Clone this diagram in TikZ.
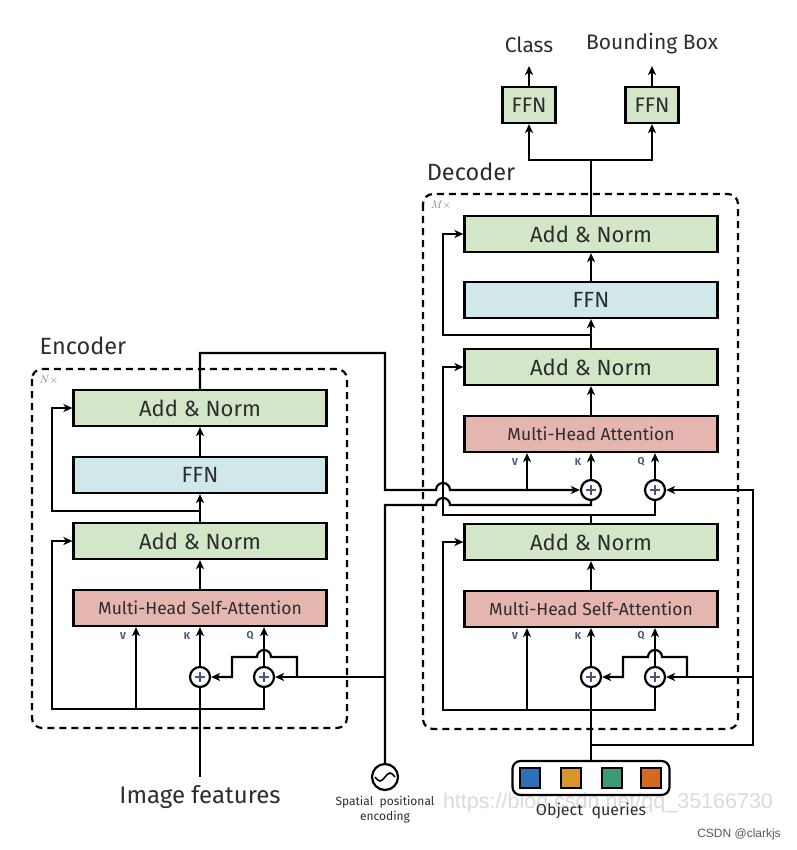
\documentclass[tikz,border=0pt]{standalone}
\usepackage{fontspec}
\setmainfont{Fira Sans}
\newfontfamily\wmfont{Liberation Sans}
\usetikzlibrary{arrows.meta,calc}
\definecolor{gfill}{RGB}{211,230,199}
\definecolor{bfill}{RGB}{209,232,234}
\definecolor{pfill}{RGB}{229,181,176}
\definecolor{txt}{RGB}{45,45,45}
\definecolor{lbl}{RGB}{70,85,120}
\definecolor{qb}{RGB}{46,112,184}
\definecolor{qy}{RGB}{216,150,42}
\definecolor{qg}{RGB}{62,154,114}
\definecolor{qo}{RGB}{210,106,32}
\begin{document}
\begin{tikzpicture}[x=1pt,y=-1pt,
 line width=2.2pt,
 arr/.style={-{Stealth[length=9pt,width=8pt,inset=2.5pt]}},
 blk/.style={draw, line width=2.2pt, minimum width=253pt, minimum height=36pt, inner sep=0pt, text=txt},
 an/.style={blk, fill=gfill, font=\fontsize{22}{26}\selectfont},
 ff/.style={blk, fill=bfill, font=\fontsize{22}{26}\selectfont},
 att/.style={blk, fill=pfill, font=\fontsize{17.5}{20}\selectfont},
 smallffn/.style={blk, fill=gfill, minimum width=53pt, font=\fontsize{21}{24}\selectfont},
 plusc/.style={circle, draw, line width=2.2pt, fill=white, minimum size=20pt, inner sep=0pt,
   path picture={\draw[line width=1.1pt,lbl] ($(path picture bounding box.center)+(-5pt,0pt)$) -- ($(path picture bounding box.center)+(5pt,0pt)$);
                 \draw[line width=1.1pt,lbl] ($(path picture bounding box.center)+(0pt,-5pt)$) -- ($(path picture bounding box.center)+(0pt,5pt)$);}},
 vkq/.style={font=\fontsize{10}{11}\selectfont\bfseries, text=lbl, inner sep=0pt},
 dbox/.style={draw, dash pattern=on 7pt off 5pt, line width=2.2pt, rounded corners=10pt},
 title/.style={font=\fontsize{23.5}{28}\selectfont, text=txt, inner sep=0pt},
 mult/.style={font=\fontsize{10.5}{12}\selectfont, text=black!50, inner sep=0pt},
 sq/.style={draw, line width=1.6pt, minimum size=20pt, inner sep=0pt},
]
\fill[white] (0,0) rectangle (796,850);
\useasboundingbox (0,0) rectangle (796,850);

% watermark
\node[font=\wmfont\fontsize{21.5}{25}\selectfont, text=black!14, inner sep=0pt] (wm) at (608,803) {https://blog.csdn.net/qq\_35166730};
\node[font=\wmfont\fontsize{12}{14}\selectfont, text=black!65, inner sep=0pt] (csdn) at (739,834) {CSDN @clarkjs};

% dashed frames
\draw[dbox] (32,369) rectangle (347,728);
\draw[dbox] (423,194) rectangle (738,729);

% labels
\node[title] (encl) at (83,346) {Encoder};
\node[title] (decl) at (471,172) {Decoder};
\node[mult] (nx) at (49,380) {$N\times$};
\node[mult] (mx) at (441,205) {$M\times$};

% encoder blocks
\node[an] (eAN2) at (200,408) {Add \& Norm};
\node[ff] (eFFN) at (200,475) {FFN};
\node[an] (eAN1) at (200,541) {Add \& Norm};
\node[att] (eMHSA) at (200,608) {Multi-Head Self-Attention};
\node[plusc] (eK) at (200,677) {};
\node[plusc] (eQ) at (264,677) {};
\node[vkq] (eVl) at (123,636) {V};
\node[vkq] (eKl) at (187,636) {K};
\node[vkq] (eQl) at (250,636) {Q};

% decoder blocks
\node[an] (dAN3) at (591,234) {Add \& Norm};
\node[ff] (dFFN) at (591,300) {FFN};
\node[an] (dAN2) at (591,367) {Add \& Norm};
\node[att] (dMHA) at (591,434) {Multi-Head Attention};
\node[an] (dAN1) at (591,542) {Add \& Norm};
\node[att] (dMHSA) at (591,609) {Multi-Head Self-Attention};
\node[plusc] (dK) at (591,490) {};
\node[plusc] (dQ) at (655,490) {};
\node[plusc] (d2K) at (591,677) {};
\node[plusc] (d2Q) at (655,677) {};
\node[vkq] (dVl) at (515,462) {V};
\node[vkq] (dKl) at (578,462) {K};
\node[vkq] (dQl) at (641,462) {Q};
\node[vkq] (d2Vl) at (515,636) {V};
\node[vkq] (d2Kl) at (578,636) {K};
\node[vkq] (d2Ql) at (641,636) {Q};

% output heads
\node[smallffn] (fc) at (529,105) {FFN};
\node[smallffn] (fb) at (652,105) {FFN};
\node[font=\fontsize{21}{25}\selectfont, text=txt, inner sep=0pt] (cls) at (529,45) {Class};
\node[font=\fontsize{21}{25}\selectfont, text=txt, inner sep=0pt] (bbx) at (652,44) {Bounding Box};
\coordinate (clsA) at (529,66);
\coordinate (bbxA) at (652,66);

% inputs
\node[font=\fontsize{24}{28}\selectfont, text=txt, inner sep=0pt] (imgf) at (200,797) {Image features};
\coordinate (imgtop) at (200,777);
\node[circle, draw, line width=2.2pt, minimum size=26pt, inner sep=0pt] (pe) at (385,777) {};
\draw[line width=1.6pt] ([xshift=-10pt]pe.center) sin ++(5pt,-4pt) cos ++(5pt,4pt) sin ++(5pt,4pt) cos ++(5pt,-4pt);
\node[align=center, font=\fontsize{12}{15}\selectfont, text=txt, inner sep=0pt] (pel) at (385,810) {Spatial\ \ positional\\encoding};
\node[draw, rounded corners=8pt, line width=2.2pt, minimum width=157pt, minimum height=34pt, inner sep=0pt] (oq) at (591,778) {};
\node[sq, fill=qb] (s1) at (530,778) {};
\node[sq, fill=qy] (s2) at (571,778) {};
\node[sq, fill=qg] (s3) at (612,778) {};
\node[sq, fill=qo] (s4) at (651,778) {};
\node[font=\fontsize{16}{19}\selectfont, text=txt, inner sep=0pt] (oql) at (591,811) {Object\ \ queries};

% coordinates
\coordinate (eV) at (136,709);
\coordinate (eBL) at (52,709);
\coordinate (eR2) at (200,511);
\coordinate (peT) at (385,505);
\coordinate (peE) at (385,677);
\coordinate (peB) at (297,677);
\coordinate (dV2) at (527,490);
\coordinate (dV1) at (527,710);
\coordinate (oqJ) at (591,745);
\coordinate (qJ) at (753,677);
\coordinate (qB) at (687,677);
\coordinate (dJ) at (591,515);
\coordinate (dR) at (591,335);
\coordinate (dTop) at (591,160);

% encoder connectors
\draw (imgtop) -- (eK.south);
\draw[arr] (eK.north) -- (eK.north |- eMHSA.south);
\draw[arr] (eQ.south) |- (eBL) |- (eAN1.west);
\draw[arr] (eV) -- (eV |- eMHSA.south);
\draw[arr] (eQ.north) -- (eQ.north |- eMHSA.south);
\draw[arr] (eMHSA.north) -- (eAN1.south);
\draw[arr] (eAN1.north) -- (eFFN.south);
\draw[arr] (eFFN.north) -- (eAN2.south);
\draw[arr] (eR2) -- (52,511) |- (eAN2.west);
\draw[arr] (peE) -- (eQ.east);
\draw[arr] (peB) -- (297,657) -- (271,657) arc[start angle=0,end angle=180,radius=7pt] -- (232,657) -- (232,677) -- (eK.east);

% positional encoding to decoder
\draw (pe.north) -- (peT) -- (436,505) arc[start angle=180,end angle=0,radius=7pt] -- (591,505) -- (dK.south);
% encoder memory to decoder
\draw[arr] (eAN2.north) |- (385,353) -- (385,490) -- (436,490) arc[start angle=180,end angle=0,radius=7pt] -- (dK.west);
\draw[arr] (dV2) -- (dV2 |- dMHA.south);

% decoder connectors
\draw (oq.north) -- (d2K.south);
\draw[arr] (d2K.north) -- (d2K.north |- dMHSA.south);
\draw[arr] (d2Q.south) |- (443,710) |- (dAN1.west);
\draw[arr] (dV1) -- (dV1 |- dMHSA.south);
\draw[arr] (d2Q.north) -- (d2Q.north |- dMHSA.south);
\draw[arr] (oqJ) -- (753,745) -- (753,490) -- (dQ.east);
\draw[arr] (qJ) -- (d2Q.east);
\draw[arr] (qB) -- (687,657) -- (662,657) arc[start angle=0,end angle=180,radius=7pt] -- (623,657) -- (623,677) -- (d2K.east);
\draw[arr] (dMHSA.north) -- (dAN1.south);
\draw (dAN1.north) -- (dJ);
\draw[arr] (dQ.south) |- (443,515) |- (dAN2.west);
\draw[arr] (dK.north) -- (dK.north |- dMHA.south);
\draw[arr] (dQ.north) -- (dQ.north |- dMHA.south);
\draw[arr] (dMHA.north) -- (dAN2.south);
\draw[arr] (dAN2.north) -- (dFFN.south);
\draw[arr] (dR) -- (443,335) |- (dAN3.west);
\draw[arr] (dFFN.north) -- (dAN3.south);
\draw (dAN3.north) -- (dTop);
\draw[arr] (dTop) -| (fc.south);
\draw[arr] (dTop) -| (fb.south);
\draw[arr] (fc.north) -- (clsA);
\draw[arr] (fb.north) -- (bbxA);
\end{tikzpicture}
\end{document}
